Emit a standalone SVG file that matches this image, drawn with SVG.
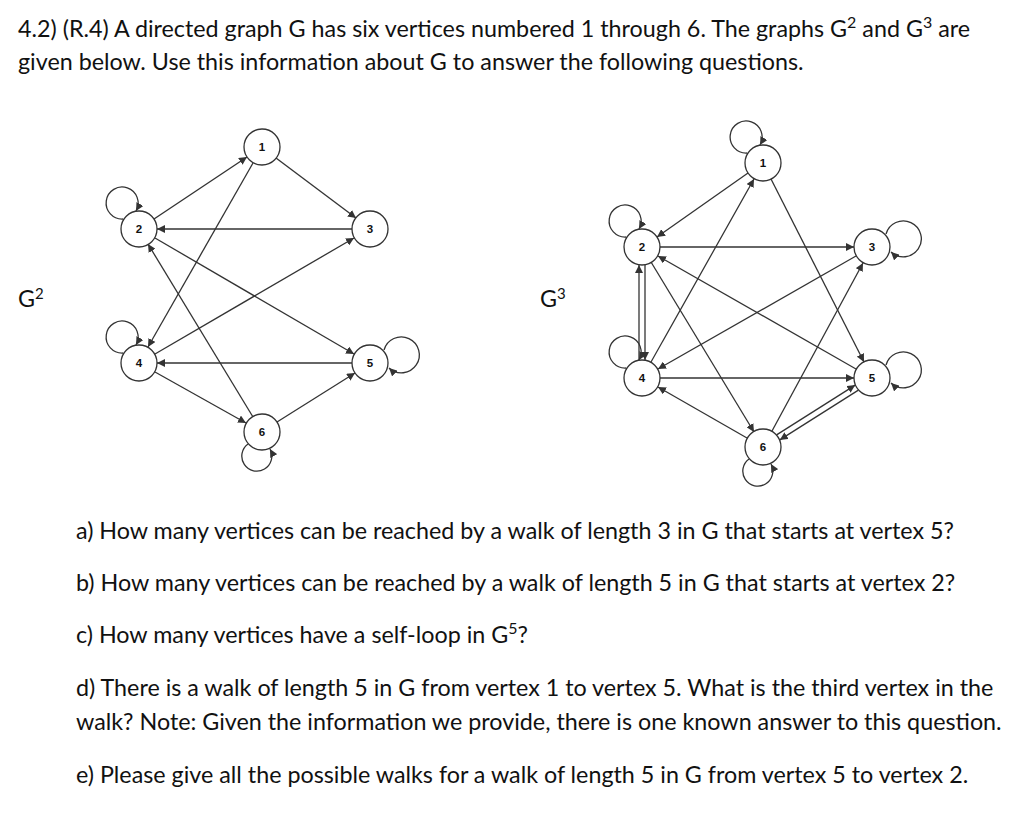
<svg xmlns="http://www.w3.org/2000/svg" width="1024" height="813" viewBox="0 0 1024 813">
<style>
.t{font-family:Lato,"Open Sans",sans-serif;font-size:23.3px;fill:#111}
.n circle{fill:#fff;stroke:#333;stroke-width:1.3}
.n text{font-family:"Liberation Sans",Arial,sans-serif;font-size:11.5px;font-weight:bold;text-anchor:middle;fill:#111}
.e path,.e line{fill:none;stroke:#333;stroke-width:1.3;marker-end:url(#a)}
</style>
<defs><marker id="a" viewBox="0 0 10 10" refX="10" refY="5" markerWidth="8" markerHeight="8" markerUnits="userSpaceOnUse" orient="auto"><path d="M0,0 L10,5 L0,10 z" fill="#333"/></marker></defs>
<rect width="1024" height="813" fill="#fff"/>
<text class="t" x="18" y="37">4.2) (R.4) A directed graph G has six vertices numbered 1 through 6. The graphs G<tspan dy="-9" font-size="16">2</tspan><tspan dy="9"> and G</tspan><tspan dy="-9" font-size="16">3</tspan><tspan dy="9"> are</tspan></text>
<text class="t" x="18" y="70">given below. Use this information about G to answer the following questions.</text>
<text class="t" x="18" y="307">G<tspan dy="-8" font-size="15">2</tspan></text>
<text class="t" x="540" y="307">G<tspan dy="-8" font-size="15">3</tspan></text>
<g id="connectors" class="e">
<line x1="154" y1="219" x2="247" y2="157"/>
<line x1="276" y1="158" x2="356" y2="218"/>
<line x1="352" y1="229" x2="157" y2="229"/>
<line x1="253" y1="163" x2="148" y2="347"/>
<line x1="155" y1="238" x2="354" y2="354"/>
<line x1="155" y1="354" x2="354" y2="238"/>
<line x1="253" y1="417" x2="148" y2="244"/>
<line x1="352" y1="363" x2="157" y2="363"/>
<line x1="155" y1="372" x2="246" y2="423"/>
<line x1="277" y1="422" x2="355" y2="373"/>
<path d="M123,219 A16 16 0 1 1 136,211"/>
<path d="M123,353 A16 16 0 1 1 136,345"/>
<path d="M384,350 A18 18 0 1 1 389,368"/>
<path d="M248,444 A15 15 0 1 0 270,449"/>
<line x1="748" y1="173" x2="657" y2="237"/>
<line x1="660" y1="247" x2="854" y2="247"/>
<line x1="856" y1="256" x2="658" y2="369"/>
<line x1="651" y1="362" x2="754" y2="179"/>
<line x1="771" y1="179" x2="864" y2="362"/>
<line x1="651" y1="262" x2="754" y2="432"/>
<line x1="856" y1="369" x2="658" y2="256"/>
<line x1="772" y1="431" x2="863" y2="263"/>
<line x1="660" y1="378" x2="854" y2="378"/>
<line x1="747" y1="438" x2="658" y2="387"/>
<line x1="776.6" y1="434.9" x2="855.2" y2="385.1"/>
<line x1="858.4" y1="390.1" x2="779.8" y2="439.9"/>
<line x1="639" y1="360" x2="639" y2="265"/>
<line x1="645" y1="265" x2="645" y2="360"/>
<path d="M747,153 A16 16 0 1 1 760,145"/>
<path d="M626,237 A16 16 0 1 1 639,229"/>
<path d="M626,368 A16 16 0 1 1 639,360"/>
<path d="M886,234 A18 18 0 1 1 891,252"/>
<path d="M886,365 A18 18 0 1 1 891,383"/>
<path d="M749,459 A15 15 0 1 0 771,464"/>
</g>
<g id="n1" class="n"><circle cx="262" cy="147" r="18"/><text x="262" y="151">1</text></g>
<g id="n2" class="n"><circle cx="139" cy="229" r="18"/><text x="139" y="233">2</text></g>
<g id="n3" class="n"><circle cx="370" cy="229" r="18"/><text x="370" y="233">3</text></g>
<g id="n4" class="n"><circle cx="139" cy="363" r="18"/><text x="139" y="367">4</text></g>
<g id="n5" class="n"><circle cx="370" cy="363" r="18"/><text x="370" y="367">5</text></g>
<g id="n6" class="n"><circle cx="262" cy="432" r="18"/><text x="262" y="436">6</text></g>
<g id="m1" class="n"><circle cx="763" cy="163" r="18"/><text x="763" y="167">1</text></g>
<g id="m2" class="n"><circle cx="642" cy="247" r="18"/><text x="642" y="251">2</text></g>
<g id="m3" class="n"><circle cx="872" cy="247" r="18"/><text x="872" y="251">3</text></g>
<g id="m4" class="n"><circle cx="642" cy="378" r="18"/><text x="642" y="382">4</text></g>
<g id="m5" class="n"><circle cx="872" cy="378" r="18"/><text x="872" y="382">5</text></g>
<g id="m6" class="n"><circle cx="763" cy="447" r="18"/><text x="763" y="451">6</text></g>
<text class="t" x="76" y="539">a) How many vertices can be reached by a walk of length 3 in G that starts at vertex 5?</text>
<text class="t" x="76" y="591">b) How many vertices can be reached by a walk of length 5 in G that starts at vertex 2?</text>
<text class="t" x="76" y="643">c) How many vertices have a self-loop in G<tspan dy="-9" font-size="16">5</tspan><tspan dy="9">?</tspan></text>
<text class="t" x="76" y="696">d) There is a walk of length 5 in G from vertex 1 to vertex 5. What is the third vertex in the</text>
<text class="t" x="76" y="730">walk? Note: Given the information we provide, there is one known answer to this question.</text>
<text class="t" x="76" y="783">e) Please give all the possible walks for a walk of length 5 in G from vertex 5 to vertex 2.</text>
</svg>
